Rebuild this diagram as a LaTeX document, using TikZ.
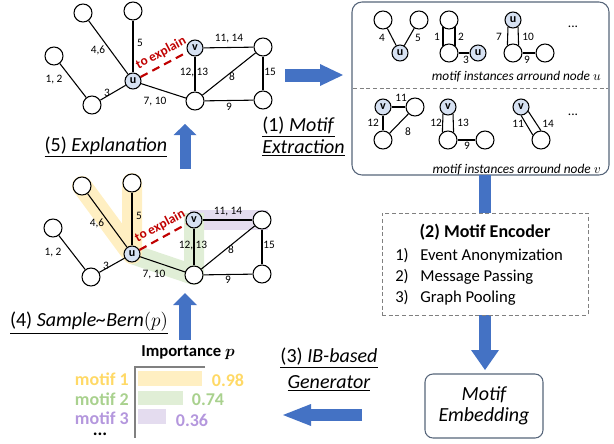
\documentclass[tikz,border=0pt]{standalone}
\usepackage{fontspec}
\setmainfont{Carlito}
\usepackage{bm}
\usetikzlibrary{arrows.meta}
\definecolor{arrowblue}{HTML}{4472C4}
\definecolor{nodeblue}{HTML}{D6E1F2}
\definecolor{redc}{HTML}{C00000}
\definecolor{yband}{HTML}{FFEFC2}
\definecolor{gband}{HTML}{E0EED6}
\definecolor{pband}{HTML}{E4DCEF}
\definecolor{ytext}{HTML}{FFD966}
\definecolor{gtext}{HTML}{A9D18E}
\definecolor{ptext}{HTML}{B497DD}
\definecolor{boxc}{HTML}{56657A}
\definecolor{dashc}{HTML}{808080}
\begin{document}
\begin{tikzpicture}[x=0.75pt,y=-0.75pt,
  gn/.style={circle,draw,line width=0.8pt,minimum size=13.5pt,inner sep=0pt,fill=white},
  sn/.style={circle,draw,line width=0.8pt,minimum size=12pt,inner sep=0pt,fill=nodeblue,font=\bfseries\fontsize{9}{9}\selectfont},
  el/.style={font=\fontsize{8.5}{9}\selectfont,inner sep=0pt},
  ed/.style={line width=0.8pt},
  expl/.style={font=\bfseries\fontsize{10}{11}\selectfont,text=redc,inner sep=0pt,rotate=28},
  dashe/.style={draw=redc,line width=1.6pt,dash pattern=on 6pt off 4pt},
  ba/.style n args={3}{draw=arrowblue,line width=#1,-{Triangle[width=#2,length=#3,line width=0pt]}},
  biglab/.style={font=\fontsize{15}{18}\selectfont,inner sep=0pt},
  mtxt/.style={font=\itshape\fontsize{10}{12}\selectfont,inner sep=0pt},
]
\useasboundingbox (0,0) rectangle (614,443);

% ---------------- top graph ----------------
\node[gn] (A1) at (83,13) {};
\node[gn] (B1) at (133,11) {};
\node[gn] (C1) at (54,56) {};
\node[gn] (D1) at (92,105) {};
\node[sn] (U1) at (133,81) {u};
\node[sn] (V1) at (195,48) {v};
\node[gn] (E1) at (263,47) {};
\node[gn] (F1) at (195,101) {};
\node[gn] (G1) at (263,100) {};
\draw[ed] (A1) -- (U1); \draw[ed] (B1) -- (U1); \draw[ed] (C1) -- (D1);
\draw[ed] (D1) -- (U1); \draw[ed] (U1) -- (F1); \draw[ed] (V1) -- (E1);
\draw[ed] (V1) -- (F1); \draw[ed] (F1) -- (E1); \draw[ed] (F1) -- (G1);
\draw[ed] (E1) -- (G1);
\draw[dashe] (U1) -- (V1);
\node[expl] (X1) at (161,53) {to explain};
\node[el] at (98,50) {4,6};
\node[el] at (140,43) {5};
\node[el] at (54,80) {1, 2};
\node[el] at (107,93) {3};
\node[el] at (155,102) {7, 10};
\node[el] at (194,73) {12, 13};
\node[el] at (229,39) {11, 14};
\node[el] at (232,77) {8};
\node[el] at (270,72) {15};
\node[el] at (229,107) {9};

% ---------------- bottom graph (highlighted) ----------------
\coordinate (hA) at (82,186);
\coordinate (hB) at (132,183);
\coordinate (hU) at (132,254);
\coordinate (hV) at (194,213);
\coordinate (hF) at (194,275);
\fill[pband] (190,210) rectangle (268,230);
\draw[gband,line width=15pt,line join=round] (hU) -- (hF) -- (hV);
\draw[yband,line width=15pt,line cap=round,line join=round] (hA) -- (hU) -- (hB);
\node[gn] (A2) at (82,186) {};
\node[gn] (B2) at (132,183) {};
\node[gn] (C2) at (53,228) {};
\node[gn] (D2) at (91,277) {};
\node[sn] (U2) at (132,254) {u};
\node[sn] (V2) at (194,220) {v};
\node[gn] (E2) at (262,220) {};
\node[gn] (F2) at (194,275) {};
\node[gn] (G2) at (262,274) {};
\draw[ed] (A2) -- (U2); \draw[ed] (B2) -- (U2); \draw[ed] (C2) -- (D2);
\draw[ed] (D2) -- (U2); \draw[ed] (U2) -- (F2); \draw[ed] (V2) -- (E2);
\draw[ed] (V2) -- (F2); \draw[ed] (F2) -- (E2); \draw[ed] (F2) -- (G2);
\draw[ed] (E2) -- (G2);
\draw[dashe] (U2) -- (V2);
\node[expl] (X2) at (160,226) {to explain};
\node[el] at (97,223) {4,6};
\node[el] at (139,216) {5};
\node[el] at (53,253) {1, 2};
\node[el] at (106,266) {3};
\node[el] at (154,275) {7, 10};
\node[el] at (193,246) {12, 13};
\node[el] at (228,212) {11, 14};
\node[el] at (231,250) {8};
\node[el] at (269,245) {15};
\node[el] at (228,280) {9};

% ---------------- labels ----------------
\node[biglab] (L5) at (106,147) {\underline{(5) \textit{Explanation}}};
\node[biglab,anchor=west] (L1a) at (262,127) {\underline{(1) \textit{Motif}}};
\node[biglab,anchor=west] (L1b) at (262,148) {\underline{\textit{Extraction}}};
\node[biglab] (L4) at (89,323) {\underline{(4) \textit{Sample\textasciitilde Bern}$(p)$}};
\node[biglab] (L3a) at (329,358) {\underline{(3) \textit{IB-based}}};
\node[biglab] (L3b) at (329,383) {\underline{\textit{Generator}}};

% ---------------- motif box ----------------
\draw[boxc,line width=0.8pt,rounded corners=7.5pt] (352,2) rectangle (609,175);
\draw[dashc,line width=0.6pt,dash pattern=on 3pt off 2pt] (353,88) -- (608,88);

% motif 1
\node[gn] (m1a) at (383,20) {};
\node[gn] (m1b) at (419,20) {};
\node[sn] (m1u) at (400,53) {u};
\draw[ed] (m1a) -- (m1u); \draw[ed] (m1b) -- (m1u);
\node[el] at (382,38) {4};
\node[el] at (418,38) {5};
% motif 2
\node[gn] (m2a) at (449,20) {};
\node[gn] (m2b) at (449,53) {};
\node[sn] (m2u) at (478,53) {u};
\draw[ed] (m2a.231) -- (m2b.129); \draw[ed] (m2a.309) -- (m2b.51);
\draw[ed] (m2b) -- (m2u);
\node[el] at (437,37) {1};
\node[el] at (461,37) {2};
\node[el] at (466,60) {3};
% motif 3
\node[sn] (m3u) at (513,20) {u};
\node[gn] (m3b) at (513,53) {};
\node[gn] (m3c) at (545,53) {};
\draw[ed] (m3u.234) -- (m3b.126); \draw[ed] (m3u.306) -- (m3b.54);
\draw[ed] (m3b) -- (m3c);
\node[el] at (499,37) {7};
\node[el] at (528,37) {10};
\node[el] at (527,60) {9};
\node[font=\fontsize{10}{12}\selectfont] (dots1) at (573,27) {...};
\node[mtxt,anchor=east] (t1) at (601,77) {motif instances arround node $u$};
% motif 4
\node[sn] (m4v) at (383,107) {v};
\node[gn] (m4a) at (415,107) {};
\node[gn] (m4b) at (383,140) {};
\draw[ed] (m4v) -- (m4a); \draw[ed] (m4v) -- (m4b); \draw[ed] (m4a) -- (m4b);
\node[el] at (401,98) {11};
\node[el] at (373,123) {12};
\node[el] at (408,132) {8};
% motif 5
\node[sn] (m5v) at (448,107) {v};
\node[gn] (m5b) at (448,140) {};
\node[gn] (m5c) at (485,140) {};
\draw[ed] (m5v.234) -- (m5b.126); \draw[ed] (m5v.306) -- (m5b.54);
\draw[ed] (m5b) -- (m5c);
\node[el] at (436,123) {12};
\node[el] at (463,123) {13};
\node[el] at (467,146) {9};
% motif 6
\node[sn] (m6v) at (521,107) {v};
\node[gn] (m6b) at (541,140) {};
\draw[ed] (m6v.-31) -- (m6b.91); \draw[ed] (m6v.-89) -- (m6b.149);
\node[el] at (518,124) {11};
\node[el] at (548,124) {14};
\node[font=\fontsize{10}{12}\selectfont] (dots2) at (573,115) {...};
\node[mtxt,anchor=east] (t2) at (601,170) {motif instances arround node $v$};

% ---------------- encoder & embedding ----------------
\coordinate (dA) at (485,175);
\coordinate (dB) at (485,370);
\draw[ba={9pt}{21pt}{15pt}] (dA) -- (dB);
\node[draw=dashc,dash pattern=on 3pt off 2pt,line width=0.6pt,fill=white,minimum width=154.5pt,minimum height=76.5pt,inner sep=0pt] (enc) at (485,264) {};
\node[font=\bfseries\fontsize{13.5}{16}\selectfont] (encT) at (485,232) {(2) Motif Encoder};
\begin{scope}[every node/.style={font=\fontsize{12.5}{15}\selectfont,anchor=west,inner sep=0pt}]
\node (e1n) at (395,256) {1)}; \node (e1) at (420,256) {Event Anonymization};
\node (e2n) at (395,277) {2)}; \node (e2) at (420,277) {Message Passing};
\node (e3n) at (395,298) {3)}; \node (e3) at (420,298) {Graph Pooling};
\end{scope}
\node[draw=boxc,line width=0.8pt,rounded corners=6pt,minimum width=88.5pt,minimum height=48pt,align=center,font=\itshape\fontsize{15}{15.75}\selectfont,inner sep=0pt] (emb) at (484,406) {Motif\\Embedding};

% ---------------- importance chart ----------------
\node[font=\bfseries\fontsize{12.5}{15}\selectfont] (imp) at (188,353) {Importance $\bm{p}$};
\draw[dashc,line width=1.2pt] (205,367) -- (135,367) -- (135,438);
\fill[yband] (138,371) rectangle (202,386);
\fill[gband] (138,391) rectangle (183,405);
\fill[pband] (138,409) rectangle (166,424);
\begin{scope}[every node/.style={font=\bfseries\fontsize{13.5}{15}\selectfont,inner sep=0pt}]
\node[text=ytext,anchor=east] (mt1) at (129,379) {motif 1};
\node[text=gtext,anchor=east] (mt2) at (129,399) {motif 2};
\node[text=ptext,anchor=east] (mt3) at (129,418) {motif 3};
\node[text=ytext] (v1) at (228,380) {0.98};
\node[text=gtext] (v2) at (208,400) {0.74};
\node[text=ptext] (v3) at (192,420) {0.36};
\node (dd) at (100,434) {...};
\end{scope}

% ---------------- block arrows ----------------
\coordinate (r1) at (285,75); \coordinate (r2) at (343,75);
\draw[ba={9.75pt}{16.5pt}{17.25pt}] (r1) -- (r2);
\coordinate (u5a) at (185,169); \coordinate (u5b) at (185,124);
\draw[ba={8.25pt}{17.25pt}{8.25pt}] (u5a) -- (u5b);
\coordinate (u4a) at (185,340); \coordinate (u4b) at (185,293);
\draw[ba={9pt}{18pt}{9pt}] (u4a) -- (u4b);
\coordinate (l3a) at (362,415); \coordinate (l3b) at (283,415);
\draw[ba={9pt}{16.5pt}{21pt}] (l3a) -- (l3b);
\end{tikzpicture}
\end{document}
